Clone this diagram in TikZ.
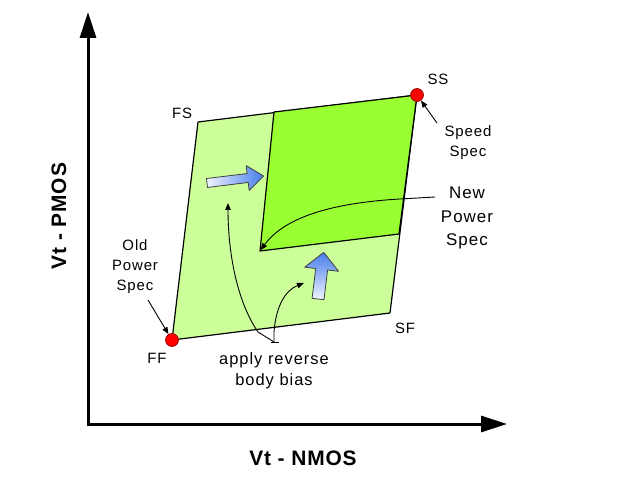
\documentclass[tikz,border=0pt]{standalone}
\usepackage{fontspec}
\setmainfont{Liberation Sans}
\newfontfamily\lblfont[LetterSpace=6]{Liberation Sans}
\newfontfamily\axfont[LetterSpace=4]{Liberation Sans}
\usetikzlibrary{arrows.meta}
\definecolor{lightG}{RGB}{204,255,153}
\definecolor{darkG}{RGB}{153,255,51}
\definecolor{blueD}{RGB}{70,125,235}
\definecolor{blueL}{RGB}{240,244,255}
\definecolor{dotred}{RGB}{255,0,0}
\begin{document}
\begin{tikzpicture}[x=1bp,y=-1bp,
  lightreg/.style={fill=lightG, draw=black, line width=1.2bp, line join=round},
  darkreg/.style={fill=darkG, draw=black, line width=1.2bp, line join=round},
  corner/.style={font=\lblfont\fontsize{15}{18}\selectfont, inner sep=0pt},
  lbl/.style={font=\lblfont\fontsize{15}{20}\selectfont, align=center, inner sep=0pt},
  biglbl/.style={font=\lblfont\fontsize{17}{23.5}\selectfont, align=center, inner sep=0pt},
  midlbl/.style={font=\lblfont\fontsize{16.5}{21.5}\selectfont, align=center, inner sep=0pt},
  axlbl/.style={font=\axfont\bfseries\fontsize{21}{24}\selectfont, inner sep=0pt},
  dot/.style={circle, fill=dotred, draw=red!55!black, minimum size=13bp, inner sep=0pt, line width=0.6bp},
  ptr/.style={-{Triangle[length=7bp,width=5.5bp]}, line width=0.9bp},
  axisline/.style={line width=3bp, line join=miter, {Triangle[length=26bp,width=16bp]}-{Triangle[length=26bp,width=16bp]}},
  blockarr/.style={draw=black!75, line width=0.8bp, line join=round}
]
\useasboundingbox (0,0) rectangle (627,494);

% axes
\coordinate (origin) at (88,424);
\coordinate (ytip) at (88,12);
\coordinate (xtip) at (507,424);
\draw[axisline] (ytip) -- (origin) -- (xtip);

% regions
\coordinate (FF) at (172,340);
\coordinate (FS) at (198,122);
\coordinate (SS) at (417,95);
\coordinate (SF) at (390,313);
\coordinate (NT) at (274,112);
\coordinate (NC) at (260,251);
\coordinate (NR) at (399,234);
\draw[lightreg] (FF) -- (FS) -- (SS) -- (SF) -- cycle;
\draw[darkreg] (NT) -- (SS) -- (NR) -- (NC) -- cycle;

% block arrows
\begin{scope}[shift={(207,183)}, rotate=7]
  \draw[blockarr, left color=blueL, right color=blueD]
    (0,-4.5) -- (41,-4.5) -- (41,-12.5) -- (57,0) -- (41,12.5) -- (41,4.5) -- (0,4.5) -- cycle;
\end{scope}
\begin{scope}[shift={(318,299)}, rotate=83]
  \draw[blockarr, bottom color=blueL, top color=blueD]
    (0,-6) -- (30,-6) -- (30,-17) -- (47,0) -- (30,17) -- (30,6) -- (0,6) -- cycle;
\end{scope}

% dots
\node[dot] (ssdot) at (SS) {};
\node[dot] (ffdot) at (FF) {};

% labels
\node[corner] (lSS) at (438,79) {SS};
\node[corner] (lFS) at (182,113) {FS};
\node[corner] (lSF) at (405,328) {SF};
\node[corner] (lFF) at (157,358) {FF};
\node[lbl] (speed) at (468,143) {Speed\\Spec};
\node[biglbl] (newp) at (467,218) {New\\Power\\Spec};
\node[lbl] (oldp) at (135,267) {Old\\Power\\Spec};
\node[midlbl] (arbb) at (274,371) {apply reverse\\body bias};
\node[axlbl] (xl) at (303,458) {Vt - NMOS};
\node[axlbl, rotate=90] (yl) at (59,216) {Vt - PMOS};

% pointers
\coordinate (speedtail) at (437,123);
\draw[ptr] (speedtail) -- (ssdot);
\coordinate (oldtail) at (148,300);
\draw[ptr] (oldtail) -- (ffdot);
\coordinate (newtail) at (435,197);
\draw[ptr, shorten >=1bp] (newtail) -- (400,199) .. controls (330,203) and (284,218) .. (NC);

\coordinate (brace) at (274,342);
\coordinate (htarget) at (228,203);
\coordinate (vtarget) at (304,283);
\draw[ptr] (brace) -- (258,332) .. controls (236,300) and (228,250) .. (htarget);
\draw[ptr] (brace) -- (274,332) .. controls (276,305) and (286,290) .. (vtarget);
\draw[line width=0.9bp] ([xshift=-3bp]brace) -- ([xshift=5bp]brace);
\end{tikzpicture}
\end{document}
